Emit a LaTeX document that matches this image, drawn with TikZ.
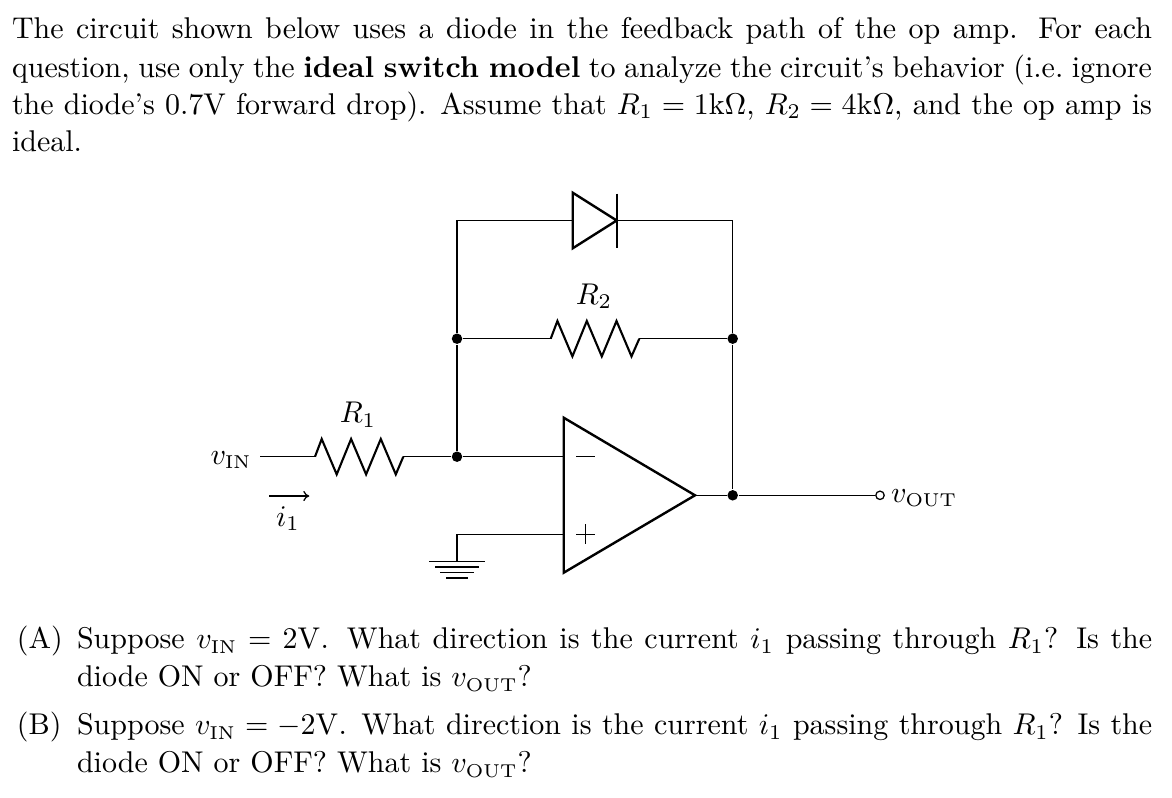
\documentclass[tikz,border=0pt]{standalone}
\usepackage{amsmath}
\usetikzlibrary{arrows.meta}
\newcommand{\fl}[1]{\makebox[380pt][s]{#1}}
\newcommand{\flb}[1]{\makebox[358.4pt][s]{#1}}
\newcommand{\subt}[1]{\text{\fontsize{6.2}{7}\selectfont #1}}
\tikzset{
  x=0.33333pt,y=-0.33333pt,
  txt/.style={anchor=base west,inner sep=0pt,outer sep=0pt},
  lbl/.style={anchor=base,inner sep=0pt,outer sep=0pt},
  wire/.style={line width=0.42pt},
  sym/.style={line width=0.8pt,line join=miter},
  zig/.style={line width=0.7pt,line join=miter,to path={-- ++(6.7,-17.7) -- ++(15,35.4) -- ++(14.4,-35.4) -- ++(15,35.4) -- ++(14.7,-35.4) -- ++(15,35.4) -- (\tikztotarget)}},
  junction/.style={circle,fill=black,draw=none,minimum size=3.5pt,inner sep=0pt},
  terminal/.style={circle,fill=white,draw=black,line width=0.42pt,minimum size=2.8pt,inner sep=0pt},
  gnd/.style={line width=0.42pt},
}
\begin{document}
\begin{tikzpicture}
\useasboundingbox (0,0) rectangle (1172,797);
% text
\node[txt] (t1) at (12,39) {\fl{The circuit shown below uses a diode in the feedback path of the op amp.  For each}};
\node[txt] (t2) at (12,77) {\fl{question, use only the \textbf{ideal switch model} to analyze the circuit's behavior (i.e.\ ignore}};
\node[txt] (t3) at (12,114) {\fl{the diode's 0.7V forward drop).  Assume that $R_1 = 1\mathrm{k}\Omega$, $R_2 = 4\mathrm{k}\Omega$, and the op amp is}};
\node[txt] (t4) at (12,151) {ideal.};
\node[txt] (a0) at (17,648.5) {(A)};
\node[txt] (a1) at (77,648.5) {\flb{Suppose $v_{\subt{IN}} = 2\mathrm{V}$.  What direction is the current $i_1$ passing through $R_1$?  Is the}};
\node[txt] (a2) at (77,686.5) {diode ON or OFF?  What is $v_{\subt{OUT}}$?};
\node[txt] (b0) at (17,734.5) {(B)};
\node[txt] (b1) at (77,734.5) {\flb{Suppose $v_{\subt{IN}} = -2\mathrm{V}$.  What direction is the current $i_1$ passing through $R_1$?  Is the}};
\node[txt] (b2) at (77,772.5) {diode ON or OFF?  What is $v_{\subt{OUT}}$?};
% anchors
\coordinate (vin) at (260,456.7);
\coordinate (r1l) at (315,456.7);
\coordinate (r1r) at (403.3,456.7);
\node[junction] (jn) at (457,456.7) {};
\node[junction] (jl) at (457,338.7) {};
\node[junction] (jr) at (732.7,338.7) {};
\node[junction] (jo) at (732.7,495.3) {};
\coordinate (r2l) at (550.7,338.7);
\coordinate (r2r) at (639.3,338.7);
\coordinate (tl) at (457,220.5);
\coordinate (tr) at (732.7,220.5);
\coordinate (da) at (572.7,220.5);
\coordinate (dk) at (616.7,220.5);
\coordinate (dt) at (572.7,192.7);
\coordinate (db) at (572.7,248.3);
\coordinate (kt) at (616.7,193.5);
\coordinate (kb) at (616.7,247.5);
\coordinate (opt) at (563.7,417.7);
\coordinate (opb) at (563.7,572.7);
\coordinate (opo) at (695,495.3);
\coordinate (opm) at (563.7,456.7);
\coordinate (opp) at (563.7,534.2);
\coordinate (gc) at (457,534.2);
\coordinate (g0) at (457,561.3);
\node[terminal] (out) at (880,495.3) {};
\coordinate (il) at (269.3,496);
\coordinate (ir) at (309.3,496);
% wires
\draw[wire] (vin) -- (r1l);
\draw[zig] (r1l) to (r1r);
\draw[wire] (r1r) -- (jn) -- (opm);
\draw[wire] (jn) -- (jl) -- (tl) -- (da);
\draw[wire] (dk) -- (tr) -- (jr) -- (jo);
\draw[wire] (jl) -- (r2l);
\draw[zig] (r2l) to (r2r);
\draw[wire] (r2r) -- (jr);
\draw[wire] (opo) -- (jo) -- (out);
\draw[wire] (opp) -- (gc) -- (g0);
% diode
\draw[sym] (dt) -- (dk) -- (db) -- cycle;
\draw[sym] (kt) -- (kb);
% op amp
\draw[sym] (opt) -- (opo) -- (opb) -- cycle;
\draw[wire] (576,456.7) -- (595,456.7);
\draw[wire] (576,534.2) -- (595,534.2) (585.5,524) -- (585.5,544);
% ground
\draw[gnd] (429,561.3) -- (485,561.3) (435,567) -- (479,567) (440,572.5) -- (474,572.5) (446,578) -- (468,578);
% current arrow
\draw[wire,-{To[length=2pt,width=3.4pt]}] (il) -- (ir);
% labels
\node[lbl] (lr1) at (358,422.5) {$R_1$};
\node[lbl] (lr2) at (594,304) {$R_2$};
\node[lbl] (lvin) at (231,464) {$v_{\subt{IN}}$};
\node[lbl] (li) at (288,526) {$i_1$};
\node[txt] (lvout) at (891,502) {$v_{\subt{OUT}}$};
\end{tikzpicture}
\end{document}
